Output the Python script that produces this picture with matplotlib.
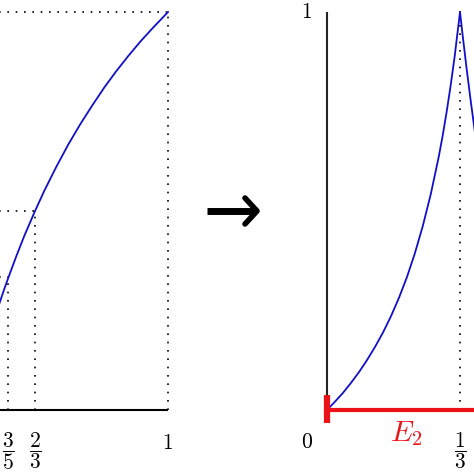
import matplotlib
matplotlib.use("Agg")
import matplotlib.pyplot as plt

plt.rcParams['mathtext.fontset'] = 'cm'

# Left panel: map on [1/2, 1]
left_x = [0.55, 0.57, 0.59, 0.60, 0.62, 0.64, 0.6667, 0.69, 0.72, 0.75, 0.78, 0.81,
          0.84, 0.87, 0.90, 0.93, 0.96, 1.0]
left_y = [0.182, 0.246, 0.305, 0.333, 0.387, 0.438, 0.500, 0.551, 0.611, 0.667, 0.718,
          0.765, 0.810, 0.851, 0.889, 0.925, 0.958, 1.0]

# Right panel: rising branch on [0, 1/3] and falling branch after 1/3
right_up_x = [0.0, 0.02, 0.04, 0.06, 0.08, 0.10, 0.12, 0.14, 0.16, 0.18, 0.20, 0.22,
              0.24, 0.26, 0.28, 0.29, 0.30, 0.31, 0.32, 0.3333]
right_up_y = [0.0, 0.021, 0.043, 0.068, 0.095, 0.125, 0.158, 0.194, 0.235, 0.281,
              0.333, 0.393, 0.462, 0.542, 0.636, 0.690, 0.750, 0.816, 0.889, 1.0]
right_down_x = [0.3333, 0.34, 0.35, 0.36, 0.37, 0.38]
right_down_y = [1.0, 0.941, 0.857, 0.778, 0.703, 0.632]

left_ticks = [0.6, 0.6667]
left_tick_labels = [r'$\dfrac{3}{5}$', r'$\dfrac{2}{3}$']
right_ticks = [0.3333]
right_tick_labels = [r'$\dfrac{1}{3}$']

blue = '#1010c8'
red = '#ec1318'

fig = plt.figure(figsize=(4.74, 4.74), dpi=100)
ylim = (-0.1608, 1.0302)

axL = fig.add_axes([0, 0, 190 / 474, 1])
axL.set_xlim(0.5789, 1.0551)
axL.set_ylim(*ylim)
axL.axis('off')

axR = fig.add_axes([280 / 474, 0, 194 / 474, 1])
axR.set_xlim(-0.1178, 0.3684)
axR.set_ylim(*ylim)
axR.axis('off')

dot = dict(color='black', lw=1.2, linestyle=(0, (1, 4)))

# Left panel guides
axL.plot([0.5, 1.0], [1.0, 1.0], **dot)
axL.plot([1.0, 1.0], [0.0, 1.0], **dot)
axL.plot([0.5, 0.6667], [0.5, 0.5], **dot)
axL.plot([0.6667, 0.6667], [0.0, 0.5], **dot)
axL.plot([0.5, 0.6], [0.3333, 0.3333], **dot)
axL.plot([0.6, 0.6], [0.0, 0.3333], **dot)
axL.plot([0.5, 1.0], [0.0, 0.0], color='black', lw=1.5, solid_capstyle='butt')
axL.plot(left_x, left_y, color=blue, lw=1.3)
for t, lab in zip(left_ticks, left_tick_labels):
    axL.text(t, -0.103, lab, ha='center', va='center', fontsize=15.5, clip_on=False)
axL.text(0.9975, -0.082, r'$1$', ha='center', va='center', fontsize=15.5)

# Right panel
axR.plot([0.3333, 0.3333], [0.0, 1.0], **dot)
axR.plot([0.0, 0.0], [0.0, 1.0], color='#222222', lw=1.5, solid_capstyle='butt')
axR.plot(right_up_x, right_up_y, color=blue, lw=1.3)
axR.plot(right_down_x, right_down_y, color=blue, lw=1.3)
axR.plot([0.0, 0.40], [0.0, 0.0], color=red, lw=3.0, solid_capstyle='butt')
axR.plot([0.0, 0.0], [-0.033, 0.038], color=red, lw=4.5, solid_capstyle='butt')
for t, lab in zip(right_ticks, right_tick_labels):
    axR.text(t, -0.103, lab, ha='center', va='center', fontsize=15.5, clip_on=False)
axR.text(-0.051, -0.080, r'$0$', ha='center', va='center', fontsize=15.5)
axR.text(-0.051, 1.0, r'$1$', ha='center', va='center', fontsize=15.5)
axR.text(0.198, -0.058, r'$E_2$', ha='center', va='center', fontsize=21, color=red)

# Arrow between panels (figure pixel overlay)
ov = fig.add_axes([0, 0, 1, 1])
ov.set_xlim(0, 474)
ov.set_ylim(474, 0)
ov.axis('off')
ov.patch.set_alpha(0)
ov.plot([207, 255], [211, 211], color='black', lw=5, solid_capstyle='butt')
ov.plot([245, 257, 245], [198, 211, 224], color='black', lw=4,
        solid_capstyle='round', solid_joinstyle='round')

fig.savefig('out.png', dpi=100)
